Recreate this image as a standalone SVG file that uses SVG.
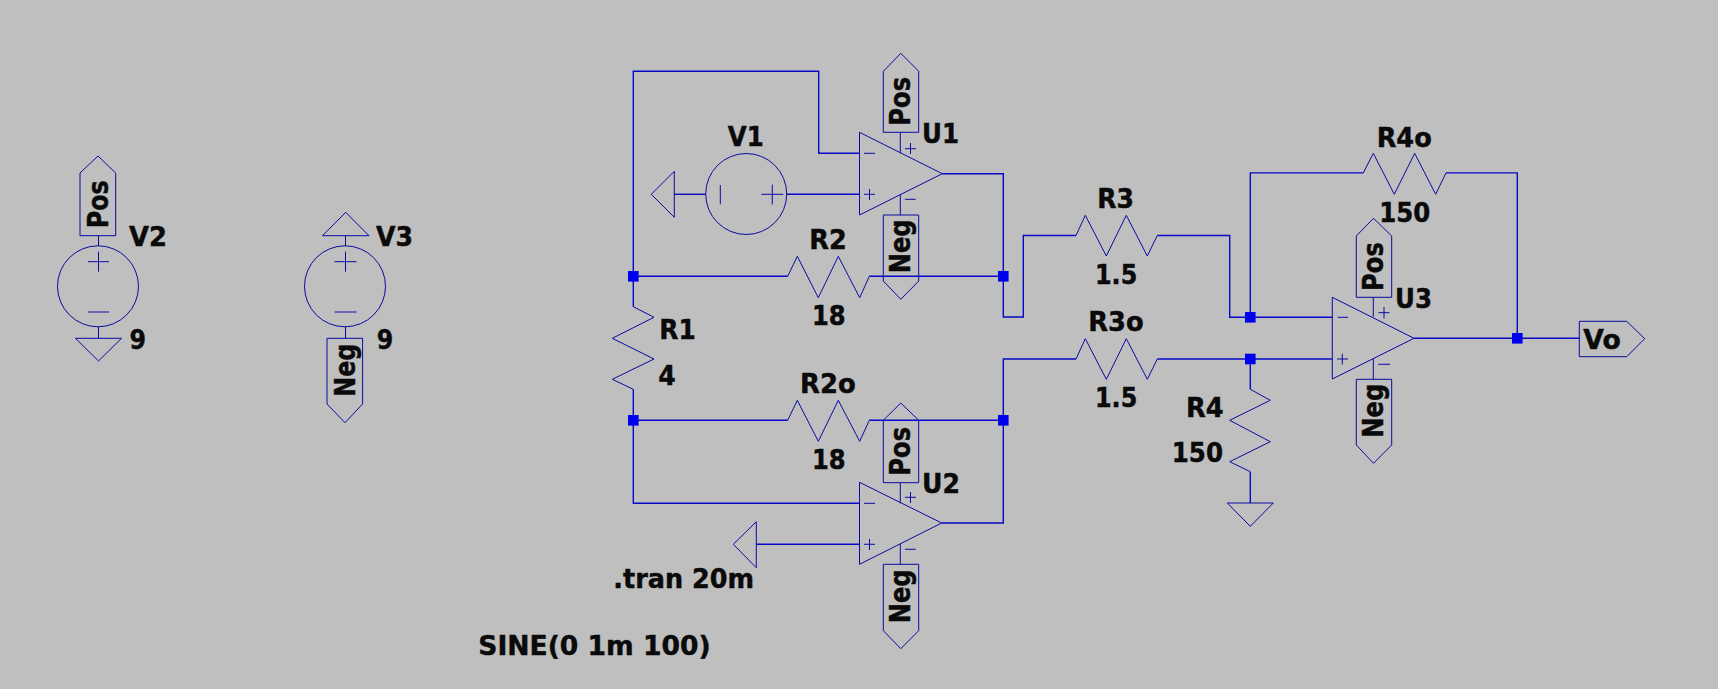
<svg xmlns="http://www.w3.org/2000/svg" width="1718" height="689" viewBox="0 0 1718 689">
<style>
.w{fill:none;stroke:#0808c8;stroke-width:1.4}
.s{fill:none;stroke:#0a0aa0;stroke-width:1}
.j{fill:#0000f0}
text{font-family:"DejaVu Sans","Liberation Sans",sans-serif;font-weight:bold;font-size:26.5px;fill:#0a0a0a;stroke:#0a0a0a;stroke-width:.45}
.r{font-size:28px}
</style>
<rect width="1718" height="689" fill="#bfbfbf"/>
<g id="connectors">
<path class="w" d="M633.3 276.3V71.3H818.7V153.3H859.5"/>
<path class="w" d="M674.3 194.3H705.7"/>
<path class="w" d="M786.7 194.3H859.5"/>
<path class="w" d="M942.3 173.7H1003.3V317H1023.3V235.5H1076"/>
<path class="w" d="M633.3 276.3H787.7"/>
<path class="w" d="M869.3 276.3H1003.3"/>
<path class="w" d="M633.3 276.3V306.7"/>
<path class="w" d="M633.3 389.3V503.3H859.5"/>
<path class="w" d="M633.3 420.3H787.7"/>
<path class="w" d="M869.3 420.3H1003.3"/>
<path class="w" d="M756.3 544.3H859.5"/>
<path class="w" d="M941.7 523H1003.3V359H1076"/>
<path class="w" d="M1157.3 235.5H1229.7V317.3H1332.3"/>
<path class="w" d="M1157.3 359H1332.3"/>
<path class="w" d="M1250.3 359V389.3"/>
<path class="w" d="M1250.3 471.7V503"/>
<path class="w" d="M1250.3 317.3V172.9H1363.3"/>
<path class="w" d="M1446 172.9H1517.3V338.3"/>
<path class="w" d="M1414 338.3H1579.3"/>
<g class="j">
<rect x="628" y="271" width="10.6" height="10.6"/>
<rect x="998" y="271" width="10.6" height="10.6"/>
<rect x="628" y="415" width="10.6" height="10.6"/>
<rect x="998" y="415" width="10.6" height="10.6"/>
<rect x="1245" y="312" width="10.6" height="10.6"/>
<rect x="1245" y="353.7" width="10.6" height="10.6"/>
<rect x="1512" y="333" width="10.6" height="10.6"/>
</g>
</g>
<g id="V2">
<circle class="s" cx="98" cy="286.3" r="40.5"/>
<path class="s" d="M98.5 235.7V245.8M98.5 326.8V338.3M88 261.7H109M98.5 251.7V271.7M88 312H109"/>
<path class="s" d="M80 235.7V173L98 156L115.7 173V235.7Z"/>
<path class="s" d="M75.5 338.3H121.5L98.5 361Z"/>
<text class="r" transform="translate(108.3 228.3) rotate(-90)" textLength="48" lengthAdjust="spacingAndGlyphs">Pos</text>
<text x="129" y="246" textLength="38" lengthAdjust="spacingAndGlyphs">V2</text>
<text x="129.5" y="349" textLength="16.5" lengthAdjust="spacingAndGlyphs">9</text>
</g>
<g id="V3">
<circle class="s" cx="345" cy="286.3" r="40.5"/>
<path class="s" d="M345.5 235.7V245.8M345.5 326.8V338.3M334.5 261.7H356.5M345.5 251.7V271.7M334.5 312H356.5"/>
<path class="s" d="M322.5 235.7H369L345.7 212.3Z"/>
<path class="s" d="M327 338.3H362.6V404L345 422.7L327 404Z"/>
<text class="r" transform="translate(355.3 396.7) rotate(-90)" textLength="53" lengthAdjust="spacingAndGlyphs">Neg</text>
<text x="376" y="246" textLength="37" lengthAdjust="spacingAndGlyphs">V3</text>
<text x="376.7" y="349" textLength="16.5" lengthAdjust="spacingAndGlyphs">9</text>
</g>
<g id="V1">
<circle class="s" cx="746.2" cy="194" r="40.5"/>
<path class="s" d="M761.3 194.3H783.3M772.3 184.7V204.3M720.3 185V204.3"/>
<path class="s" d="M674.3 171.3V217.3L651.3 194.3Z"/>
<text x="727.7" y="146.3" textLength="36" lengthAdjust="spacingAndGlyphs">V1</text>
</g>
<g id="U1">
<path class="s" d="M859.5 132.3V215L942.3 173.7Z"/>
<path class="s" d="M864 153.3H875M864 194.3H875M869.5 189V200M900.3 132.3V153.3M905 148.7H916M910.5 143V154M900.3 194.3V215M905 199.3H915.7"/>
<path class="s" d="M883.3 132.3V71.3L900.8 53.3L918.7 71.3V132.3Z"/>
<path class="s" d="M883.3 215H918.7V281L900.8 299.3L883.3 281Z"/>
<text class="r" transform="translate(910 125.7) rotate(-90)" textLength="49" lengthAdjust="spacingAndGlyphs">Pos</text>
<text class="r" transform="translate(910 273.3) rotate(-90)" textLength="54" lengthAdjust="spacingAndGlyphs">Neg</text>
<text x="922" y="143.3" textLength="37" lengthAdjust="spacingAndGlyphs">U1</text>
</g>
<g id="U2">
<path class="s" d="M859.5 482.3V564.3L941.7 523Z"/>
<path class="s" d="M864 503.3H875M864 544.3H875M869.5 539V550M900.3 482.7V503.3M905 497.3H916M910.5 492V503M900.3 544V564.3M905 549.3H915.7"/>
<path class="s" d="M883.3 482.7V420.3L900.8 403L918.7 420.3V482.7Z"/>
<path class="s" d="M883.3 564.3H918.7V630.7L900.8 648.7L883.3 630.7Z"/>
<path class="s" d="M756.3 521.7V567.7L733.3 544.3Z"/>
<text class="r" transform="translate(910 475.7) rotate(-90)" textLength="49" lengthAdjust="spacingAndGlyphs">Pos</text>
<text class="r" transform="translate(910 623.3) rotate(-90)" textLength="54" lengthAdjust="spacingAndGlyphs">Neg</text>
<text x="922" y="493.3" textLength="38" lengthAdjust="spacingAndGlyphs">U2</text>
</g>
<g id="U3">
<path class="s" d="M1332.3 297.3V379L1414 338.3Z"/>
<path class="s" d="M1337.7 317.3H1348M1337 359H1348M1342.3 353.7V364.5M1373.3 297.3V316.7M1378.5 312.7H1389.5M1384 307V318.5M1373.3 359V379.3M1378.3 364.3H1390"/>
<path class="s" d="M1356.3 297.3V236L1373.5 218.3L1391.7 236V297.3Z"/>
<path class="s" d="M1356.3 379.3H1391.7V445L1373.5 463.3L1356.3 445Z"/>
<text class="r" transform="translate(1383.3 291) rotate(-90)" textLength="49" lengthAdjust="spacingAndGlyphs">Pos</text>
<text class="r" transform="translate(1383.3 437.7) rotate(-90)" textLength="54" lengthAdjust="spacingAndGlyphs">Neg</text>
<text x="1395" y="307.7" textLength="37" lengthAdjust="spacingAndGlyphs">U3</text>
</g>
<g id="R1">
<path class="s" d="M633.3 306.7L654 317.3L612.3 338.3L654 359L612.3 379.3L633.3 389.3"/>
<text x="659.3" y="339.3" textLength="36.5" lengthAdjust="spacingAndGlyphs">R1</text>
<text x="658.3" y="385" textLength="17.5" lengthAdjust="spacingAndGlyphs">4</text>
</g>
<g id="R2">
<path class="s" d="M787.7 276.3L797.3 256.3L818.3 297.7L838.3 256.3L859.7 297.7L869.3 276.3"/>
<text x="809.3" y="249.3" textLength="37.5" lengthAdjust="spacingAndGlyphs">R2</text>
<text x="812" y="325" textLength="33.7" lengthAdjust="spacingAndGlyphs">18</text>
</g>
<g id="R2o">
<path class="s" d="M787.7 420.3L797.3 400.3L818.3 441.3L838.3 400.3L859.7 441.3L869.3 420.3"/>
<text x="800" y="393.3" textLength="55.7" lengthAdjust="spacingAndGlyphs">R2o</text>
<text x="812" y="469" textLength="33.7" lengthAdjust="spacingAndGlyphs">18</text>
</g>
<g id="R3">
<path class="s" d="M1076 235.5L1085.3 215.3L1106.3 256L1126.3 215.3L1147.3 256L1157.3 235.5"/>
<text x="1097.3" y="208.3" textLength="36.7" lengthAdjust="spacingAndGlyphs">R3</text>
<text x="1095" y="284.3" textLength="42.3" lengthAdjust="spacingAndGlyphs">1.5</text>
</g>
<g id="R3o">
<path class="s" d="M1076 359L1085.3 338.7L1106.3 379.3L1126.3 338.7L1147.3 379.3L1157.3 359"/>
<text x="1088.3" y="331.3" textLength="55.4" lengthAdjust="spacingAndGlyphs">R3o</text>
<text x="1095" y="407.3" textLength="42.3" lengthAdjust="spacingAndGlyphs">1.5</text>
</g>
<g id="R4">
<path class="s" d="M1250.3 389.3L1270.3 400.3L1229.7 420.3L1270.3 441.7L1229.7 461.7L1250.3 471.7"/>
<path class="s" d="M1227.3 503H1273.3L1250.3 526.3Z"/>
<text x="1186" y="416.7" textLength="37.7" lengthAdjust="spacingAndGlyphs">R4</text>
<text x="1171.7" y="462.3" textLength="51.3" lengthAdjust="spacingAndGlyphs">150</text>
</g>
<g id="R4o">
<path class="s" d="M1363.3 172.9L1373.3 153.3L1394.3 194.3L1414.7 153.3L1435.7 194.3L1446 172.9"/>
<text x="1376.7" y="146.7" textLength="55" lengthAdjust="spacingAndGlyphs">R4o</text>
<text x="1379.3" y="222.3" textLength="51" lengthAdjust="spacingAndGlyphs">150</text>
</g>
<g id="Vo">
<path class="s" d="M1579.3 321.3H1626.7L1644.7 338.7L1626.7 356.7H1579.3Z"/>
<text x="1583.3" y="349.3" textLength="37.4" lengthAdjust="spacingAndGlyphs">Vo</text>
</g>
<g id="directives">
<text x="613.3" y="587.7" textLength="140.7" lengthAdjust="spacingAndGlyphs">.tran 20m</text>
<text x="478.3" y="655.3" textLength="232.4" lengthAdjust="spacingAndGlyphs">SINE(0 1m 100)</text>
</g>
</svg>
